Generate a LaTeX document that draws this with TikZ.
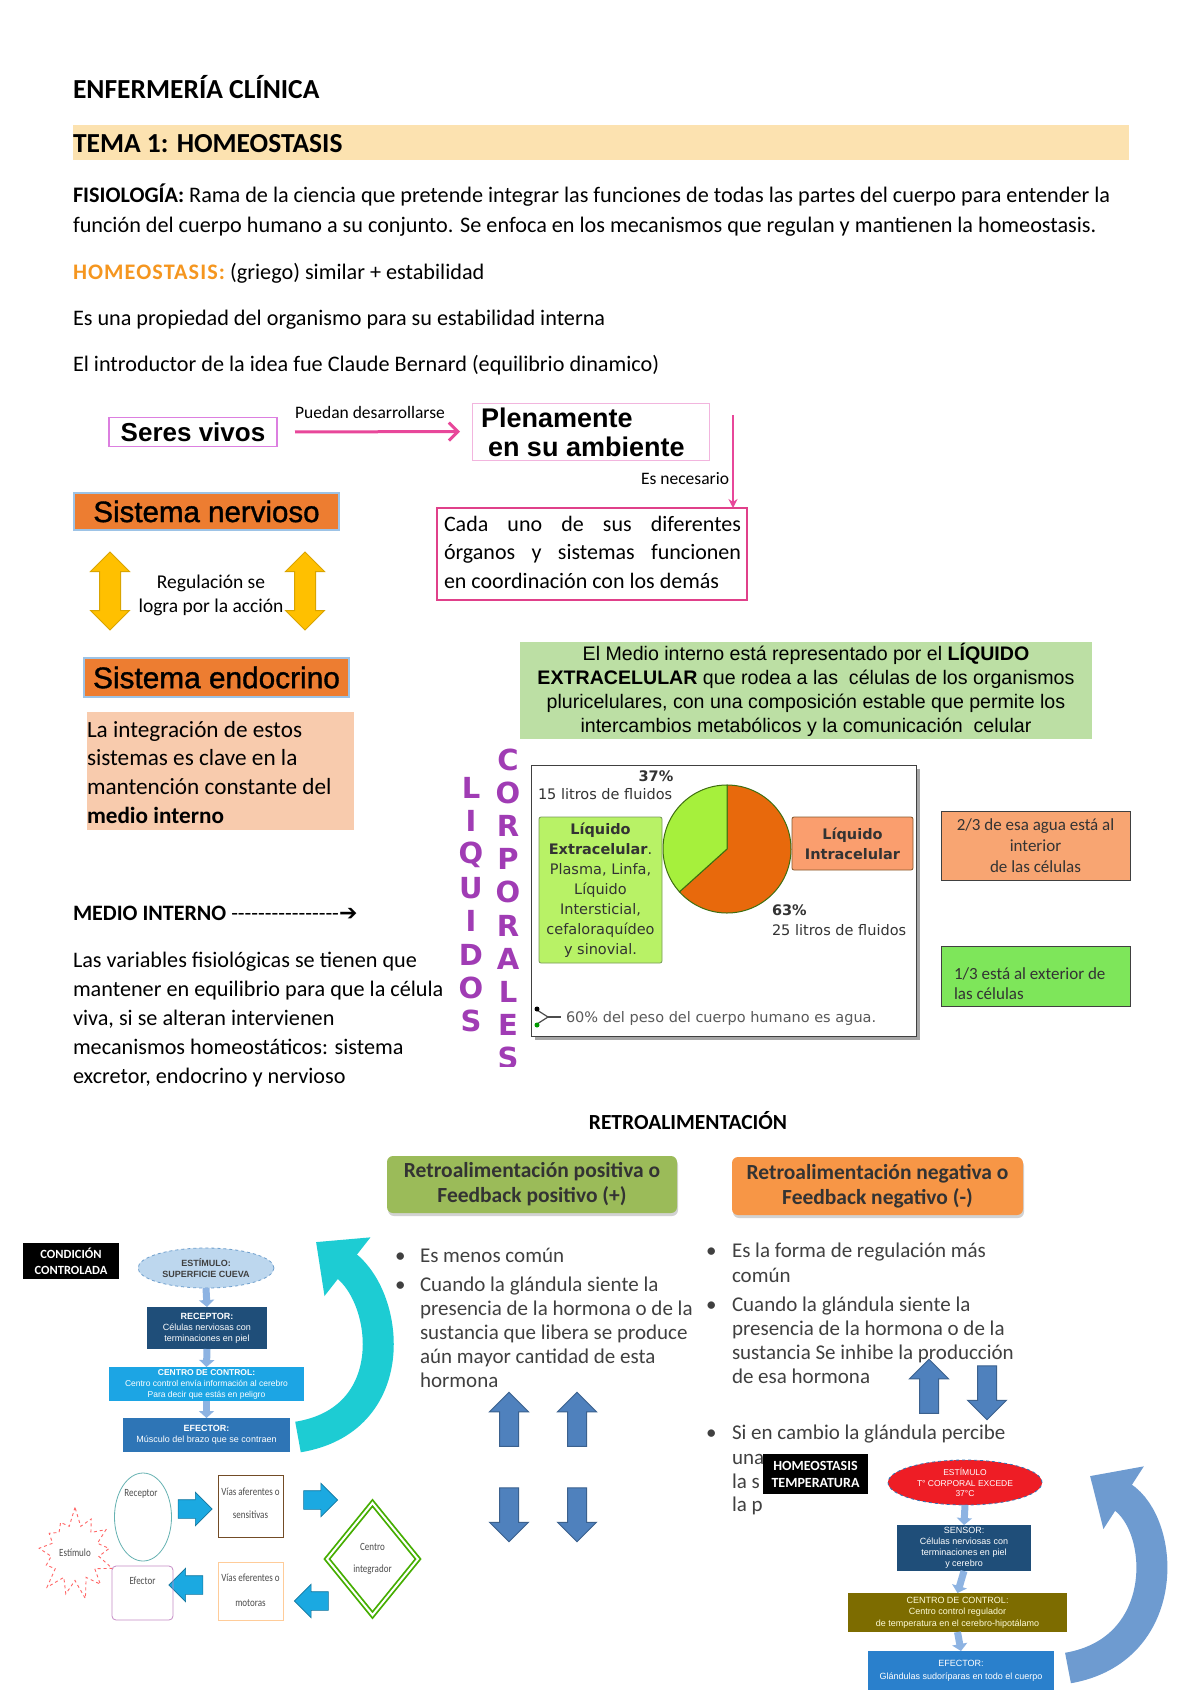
\documentclass[tikz,border=0pt]{standalone}
\usepackage{fontspec}
\usepackage{graphicx}
\setmainfont{Carlito}
\newfontfamily\arial{Liberation Sans}
\newfontfamily\arialheavy[FakeBold=1.2]{Liberation Sans}
\newfontfamily\verd{DejaVu Sans}
\usetikzlibrary{arrows.meta,shapes.arrows,shapes.geometric,shapes.symbols,shadows,calc}
\newcommand{\fsz}[2]{\fontsize{#1}{#2}\selectfont}
\newcommand{\narrow}[1]{\scalebox{0.82}[1]{#1}}
\definecolor{band}{HTML}{FCE2B0}
\definecolor{homeor}{HTML}{F5961F}
\definecolor{pinkA}{HTML}{DC7FE0}
\definecolor{pinkB}{HTML}{F2B5DE}
\definecolor{pinkC}{HTML}{E0408A}
\definecolor{pinkarr}{HTML}{E8479A}
\definecolor{orangeA}{HTML}{ED7D31}
\definecolor{lblue}{HTML}{9DC3E6}
\definecolor{yel}{HTML}{FFC000}
\definecolor{yelB}{HTML}{D9A400}
\definecolor{peach}{HTML}{F8CBAD}
\definecolor{greenA}{HTML}{BCDFA4}
\definecolor{purp}{HTML}{A03CB4}
\definecolor{piegr}{HTML}{A6F03C}
\definecolor{pieor}{HTML}{E8690C}
\definecolor{pieline}{HTML}{3E6E10}
\definecolor{lgbox}{HTML}{B8F266}
\definecolor{orbox}{HTML}{FA9E6E}
\definecolor{salm}{HTML}{F8A572}
\definecolor{brgreen}{HTML}{7EE65A}
\definecolor{hgreen}{HTML}{9BBB59}
\definecolor{horange}{HTML}{F79646}
\definecolor{bultxt}{HTML}{404040}
\definecolor{barrow}{HTML}{4F81BD}
\definecolor{ellb}{HTML}{BDD7EE}
\definecolor{navy}{HTML}{1F4E79}
\definecolor{skyb}{HTML}{1CA5E4}
\definecolor{midb}{HTML}{2E75B6}
\definecolor{connb}{HTML}{8DB3E2}
\definecolor{cyanA}{HTML}{1DCCD3}
\definecolor{steel}{HTML}{6E9BD0}
\definecolor{redA}{HTML}{EE1D25}
\definecolor{olive}{HTML}{7D6C00}
\definecolor{effb}{HTML}{2A80CC}
\definecolor{flowar}{HTML}{1BA9E1}
\begin{document}
\begin{tikzpicture}[x=1pt,y=-1pt,
  every node/.style={inner sep=0pt, outer sep=0pt},
  txt/.style={anchor=base west},
  body/.style={txt, font=\fsz{22.2}{29}},
  bul/.style={txt, font=\fsz{21}{24}, text=bultxt},
  chartt/.style={font=\verd\fsz{14.5}{20}, text=black!80},
  yarrow/.style={double arrow, shape border rotate=90, fill=yel, draw=yelB, line width=1pt, minimum height=78pt, inner sep=10pt, double arrow head extend=9pt},
  barr/.style={single arrow, fill=barrow, draw=barrow!75!black, line width=1pt, minimum height=54pt, inner sep=9pt, single arrow head extend=10pt},
  farr/.style={single arrow, fill=flowar, draw=flowar!70!black, line width=0.6pt, minimum height=34pt, inner sep=9pt, single arrow head extend=7.5pt},
  conn/.style={line width=7pt, draw=connb, -{Triangle[length=7pt,width=15pt]}},
  flowbox/.style={text=white, font=\arial\fsz{9}{11}, align=center},
  hdr/.style={rounded corners=6pt, font=\bfseries\fsz{21.5}{25}, text=black!80, align=center, drop shadow={shadow xshift=1pt, shadow yshift=-3pt, fill=black!35}},
  letter/.style={font=\verd\bfseries\fsz{29}{33}, text=purp},
  reflex/.style={font=\fsz{11}{13}, text=black!70}
]
\useasboundingbox (0,0) rectangle (1200,1698);
\fill[white] (0,0) rectangle (1200,1698);

% ---------- header text
\node[txt, font=\bfseries\fsz{27.5}{30}] (title) at (73,98) {ENFERMERÍA CLÍNICA};
\node[fill=band, minimum width=1056pt, minimum height=35pt, anchor=north west] (band) at (73,125) {};
\node[txt, font=\bfseries\fsz{27.5}{30}] (tema) at (73,152) {TEMA 1: HOMEOSTASIS};
\node[body] (f1) at (73,202) {\textbf{FISIOLOGÍA:} Rama de la ciencia que pretende integrar las funciones de todas las partes del cuerpo para entender la};
\node[body] (f2) at (73,232) {función del cuerpo humano a su conjunto. Se enfoca en los mecanismos que regulan y mantienen la homeostasis.};
\node[body] (h1) at (73,279) {{\color{homeor}\bfseries\addfontfeatures{LetterSpace=5}HOMEOSTASIS:} (griego) similar + estabilidad};
\node[body] (h2) at (73,325) {Es una propiedad del organismo para su estabilidad interna};
\node[body] (h3) at (73,371) {El introductor de la idea fue Claude Bernard (equilibrio dinamico)};

% ---------- top concept map
\node[draw=pinkA, line width=1.5pt, minimum width=168pt, minimum height=29pt, font=\arial\bfseries\fsz{26}{28}] (seres) at (193,432) {Seres vivos};
\node[draw=pinkB, line width=1pt, minimum width=237pt, minimum height=57pt] (plena) at (590.5,431.5) {};
\node[txt, font=\arial\bfseries\fsz{27}{28}] (plena1) at (481,427) {Plenamente};
\node[txt, font=\arial\bfseries\fsz{27}{28}] (plena2) at (488,456) {en su ambiente};
\draw[pinkarr, line width=3pt, -{Straight Barb[length=9pt,width=18pt]}, shorten <=18pt, shorten >=12pt] (seres.east) -- (plena.west);
\node[font=\fsz{17.5}{19}] (lab1) at (370,412) {Puedan desarrollarse};
\node[draw=pinkC, line width=1.5pt, minimum width=310pt, minimum height=92pt] (cada) at (592,554) {};
\coordinate (vs) at (733,415);
\draw[pinkarr, line width=2pt, -{Stealth[length=9pt,width=9pt]}] (vs) -- (vs |- cada.north);
\node[anchor=east, font=\fsz{17.5}{19}] (lab2) at (729,479) {Es necesario};
\node[txt, font=\fsz{22}{27}] (c1) at (444,531) {\hbox to 297pt{Cada\hfill uno\hfill de\hfill sus\hfill diferentes}};
\node[txt, font=\fsz{22}{27}] (c2) at (444,559) {\hbox to 297pt{órganos\hfill y\hfill sistemas\hfill funcionen}};
\node[txt, font=\fsz{22}{27}] (c3) at (444,588) {en coordinación con los demás};

\node[fill=orangeA, draw=lblue, line width=1.5pt, minimum width=265pt, minimum height=37pt, font=\arialheavy\fsz{29.5}{30}] (snerv) at (206.5,511.5) {Sistema nervioso};
\node[yarrow] (ya1) at (110,591) {};
\node[yarrow] (ya2) at (305,591) {};
\node[font=\fsz{19.5}{24}, align=center] (reg) at (211,595) {Regulación se\\logra por la acción};
\node[fill=orangeA, draw=lblue, line width=1.5pt, minimum width=265pt, minimum height=39pt, font=\arialheavy\fsz{29.8}{30}] (sendo) at (216.5,677.5) {Sistema endocrino};
\node[fill=peach, minimum width=267pt, minimum height=118pt, anchor=north west] (peachbox) at (87,712) {};
\node[txt, font=\fsz{23.2}{27}] (p1) at (87,737) {La integración de estos};
\node[txt, font=\fsz{23.2}{27}] (p2) at (87,765) {sistemas es clave en la};
\node[txt, font=\fsz{23.2}{27}] (p3) at (87,794) {mantención constante del};
\node[txt, font=\bfseries\fsz{23.2}{27}] (p4) at (87,823) {medio interno};

% ---------- medio interno green box
\node[fill=greenA, minimum width=572pt, minimum height=97pt, font=\arial\fsz{19.6}{24}, align=center] (gbox) at (806,690) {El Medio interno está representado por el \textbf{LÍQUIDO}\\\textbf{EXTRACELULAR} que rodea a las~ células de los organismos\\pluricelulares, con una composición estable que permite los\\intercambios metabólicos y la comunicación~ celular};

% ---------- vertical letters
\foreach \c [count=\i] in {L,I,Q,U,I,D,O,S}
  \node[letter] (liq\i) at (471,{788+33.3*(\i-1)}) {\c};
\begin{scope}
\clip (485,735) rectangle (535,1066);
\foreach \c [count=\i] in {C,O,R,P,O,R,A,L,E,S}
  \node[letter] (cor\i) at (508,{760+33.1*(\i-1)}) {\c};
\end{scope}

% ---------- chart
\fill[black!35] (535,769) rectangle (920,1040);
\node[draw=black!75, fill=white, line width=1pt, minimum width=385pt, minimum height=271pt, anchor=north west] (chart) at (531,765) {};
\coordinate (pc) at (727,849);
\filldraw[fill=pieor, draw=pieline, line width=1pt] (pc) -- ++(-222:64) arc[start angle=-222, end angle=-450, radius=64] -- cycle;
\filldraw[fill=piegr, draw=pieline, line width=1pt] (pc) -- ++(-90:64) arc[start angle=-90, end angle=-222, radius=64] -- cycle;
\node[chartt, font=\verd\bfseries\fsz{14.5}{20}] (p37) at (656,776) {37\%};
\node[chartt, anchor=base west] (l15) at (538,799) {15 litros de fluidos};
\node[fill=lgbox, draw=pieline!70, line width=0.8pt, rounded corners=2pt, minimum width=123pt, minimum height=146pt] (ext) at (600.5,890) {};
\node[chartt, align=center] (extt) at (600.5,890) {\textbf{Líquido}\\\textbf{Extracelular}.\\Plasma, Linfa,\\Líquido\\Intersticial,\\cefaloraquídeo\\y sinovial.};
\node[fill=orbox, draw=brown!70!black, line width=0.8pt, rounded corners=2pt, minimum width=121pt, minimum height=53pt, chartt, font=\verd\bfseries\fsz{14.5}{20}, align=center] (intr) at (852.5,843.5) {Líquido\\Intracelular};
\node[chartt, font=\verd\bfseries\fsz{14.5}{20}, anchor=base west] (p63) at (772,915) {63\%};
\node[chartt, anchor=base west] (l25) at (772,935) {25 litros de fluidos};
\coordinate (ic) at (548,1017);
\draw[black!70, line width=1.2pt] (537,1010) -- (ic) -- (537,1024);
\draw[black!70, line width=1.2pt] (ic) -- (561,1017);
\fill[black] (537,1009) circle[radius=2.5];
\fill[green!60!black] (537,1025) circle[radius=2.5];
\node[chartt, anchor=west, text=black!65] (agua) at (566,1018) {60\% del peso del cuerpo humano es agua.};

\node[fill=salm, draw=black!75, line width=1pt, minimum width=189pt, minimum height=69pt, font=\fsz{17}{21}, text=black!80, align=center] (b23) at (1035.5,845.5) {2/3 de esa agua está al\\interior\\de las células};
\node[fill=brgreen, draw=black!75, line width=1pt, minimum width=189pt, minimum height=60pt] (b13) at (1035.5,976) {};
\node[txt, font=\fsz{17}{21}, text=black!80] (b13a) at (954,979) {1/3 está al exterior de};
\node[txt, font=\fsz{17}{21}, text=black!80] (b13b) at (954,999) {las células};

% ---------- medio interno text
\node[txt, font=\fsz{22}{24}] (mi) at (73,920) {\textbf{MEDIO INTERNO} -{}-{}-{}-{}-{}-{}-{}-{}-{}-{}-{}-{}-{}-{}-{}-{}{\verd\bfseries ➔}};
\node[body] (m1) at (73,967) {Las variables fisiológicas se tienen que};
\node[body] (m2) at (73,996) {mantener en equilibrio para que la célula};
\node[body] (m3) at (73,1025) {viva, si se alteran intervienen};
\node[body] (m4) at (73,1054) {mecanismos homeostáticos: sistema};
\node[body] (m5) at (73,1083) {excretor, endocrino y nervioso};

% ---------- retroalimentacion
\node[font=\bfseries\fsz{21.5}{23}, anchor=base] (retro) at (688,1129) {RETROALIMENTACIÓN};
\node[hdr, fill=hgreen, minimum width=290pt, minimum height=57pt] (hpos) at (532,1184.5) {Retroalimentación positiva o\\Feedback positivo (+)};
\node[hdr, fill=horange, minimum width=291pt, minimum height=58pt] (hneg) at (877.5,1186) {Retroalimentación negativa o\\Feedback negativo (-)};

\node[bul] (pbd1) at (395,1262) {•};
\node[bul] (pb1) at (420,1262) {Es menos común};
\node[bul] (pbd2) at (395,1291) {•};
\node[bul] (pb2) at (420,1291) {Cuando la glándula siente la};
\node[bul] (pb3) at (420,1315) {presencia de la hormona o de la};
\node[bul] (pb4) at (420,1339) {sustancia que libera se produce};
\node[bul] (pb5) at (420,1363) {aún mayor cantidad de esta};
\node[bul] (pb6) at (420,1387) {hormona};

\node[bul] (nbd1) at (706,1257) {•};
\node[bul] (nb1) at (732,1257) {Es la forma de regulación más};
\node[bul] (nb2) at (732,1282) {común};
\node[bul] (nbd2) at (706,1311) {•};
\node[bul] (nb3) at (732,1311) {Cuando la glándula siente la};
\node[bul] (nb4) at (732,1335) {presencia de la hormona o de la};
\node[bul] (nb5) at (732,1359) {sustancia Se inhibe la producción};
\node[bul] (nb6) at (732,1383) {de esa hormona};
\node[bul] (nbd3) at (706,1439) {•};
\node[bul] (nb7) at (732,1439) {Si en cambio la glándula percibe};
\node[bul] (nb8) at (732,1464) {una};
\node[bul] (nb9) at (732,1488) {la s};
\node[bul] (nb10) at (732,1511) {la p};

\node[barr, shape border rotate=90] (up1) at (509,1424) {};
\node[barr, shape border rotate=90] (up2) at (577,1424) {};
\node[barr, shape border rotate=270] (dn1) at (509,1510) {};
\node[barr, shape border rotate=270] (dn2) at (577,1510) {};
\node[barr, shape border rotate=90] (up3) at (929,1391) {};
\node[barr, shape border rotate=270] (dn3) at (987,1388) {};

% ---------- left flowchart
\node[fill=black, minimum width=96pt, minimum height=36pt, text=white, font=\bfseries\fsz{12.5}{16}, align=center] (cond) at (71,1261) {CONDICIÓN\\CONTROLADA};
\node[ellipse, fill=ellb, draw=midb!70, dashed, line width=0.8pt, minimum width=136pt, minimum height=40pt, font=\arial\bfseries\fsz{9}{11}, text=black!75, align=center] (est) at (206,1268) {ESTÍMULO:\\SUPERFICIE CUEVA};
\node[fill=navy, minimum width=120pt, minimum height=42pt, flowbox] (rec) at (207,1328) {\textbf{RECEPTOR:}\\Células nerviosas con\\terminaciones en piel};
\node[fill=skyb, minimum width=195pt, minimum height=34pt, flowbox, font=\arial\fsz{8.5}{11}] (ctrl) at (206.5,1384) {\textbf{CENTRO DE CONTROL:}\\Centro control envía información al cerebro\\Para decir que estás en peligro};
\node[fill=midb, minimum width=167pt, minimum height=34pt, flowbox] (efec) at (206.5,1435) {\textbf{EFECTOR:}\\Músculo del brazo que se contraen};
\draw[conn] (est.south) -- (rec.north);
\draw[conn] (rec.south) -- (ctrl.north);
\draw[conn] (ctrl.south) -- (efec.north);
\draw[cyanA, line width=31pt, -{Triangle[length=40pt,width=72pt]}] (298,1437) .. controls (402,1420) and (390,1300) .. (316,1242);

% ---------- bottom reflex arc
\node[starburst, random starburst=7, starburst points=13, starburst point height=20pt, draw=red!60, dashed, line width=0.9pt, minimum width=88pt, minimum height=95pt, reflex] (estim) at (75,1553) {\narrow{Estímulo}};
\node[ellipse, draw=teal!60, line width=0.8pt, minimum width=57pt, minimum height=88pt] (recp) at (143,1517) {};
\node[reflex] (recpt) at (141,1494) {\narrow{Receptor}};
\node[farr] (fa1) at (190.5,1509) {};
\node[draw=brown!60!black, line width=0.8pt, minimum width=65pt, minimum height=62pt] (vaf) at (250.5,1506) {};
\node[reflex, align=center, font=\fsz{11}{23}] (vaft) at (250.5,1503) {\narrow{Vías aferentes o}\\\narrow{sensitivas}};
\node[farr] (fa2) at (316,1500) {};
\node[diamond, draw=green!45!olive, double=white, double distance=2pt, line width=1.8pt, minimum width=91pt, minimum height=112pt, aspect=0.8, reflex, font=\fsz{11}{22}, align=center] (cint) at (372.5,1559) {\narrow{Centro}\\\narrow{integrador}};
\node[farr, shape border rotate=180] (fa3) at (316,1601) {};
\node[draw=orange!40, line width=0.8pt, minimum width=65pt, minimum height=58pt] (vef) at (250.5,1591) {};
\node[reflex, align=center, font=\fsz{11}{25}] (veft) at (250.5,1590) {\narrow{Vías eferentes o}\\\narrow{motoras}};
\node[farr, shape border rotate=180] (fa4) at (190.5,1585) {};
\node[draw=violet!45, line width=0.8pt, rounded corners=4pt, minimum width=61pt, minimum height=54pt] (efb) at (142.5,1593) {};
\node[reflex] (efbt) at (142.5,1581) {\narrow{Efector}};

% ---------- right flowchart
\node[fill=black, minimum width=105pt, minimum height=40pt, text=white, font=\bfseries\fsz{14}{17}, align=center] (hom) at (815.5,1474) {HOMEOSTASIS\\TEMPERATURA};
\node[ellipse, fill=redA, draw=midb, dashed, line width=0.8pt, minimum width=154pt, minimum height=45pt, flowbox, font=\arial\fsz{8.5}{10.5}] (est2) at (965,1482.5) {ESTÍMULO\\T° CORPORAL EXCEDE\\37°C};
\node[fill=navy, minimum width=134pt, minimum height=46pt, flowbox, font=\arial\fsz{9}{11}] (sens) at (964,1548) {SENSOR:\\Células nerviosas con\\terminaciones en piel\\y cerebro};
\node[fill=olive, minimum width=219pt, minimum height=39pt, flowbox, text=yellow!15, font=\arial\fsz{9}{11.5}] (ctrl2) at (957.5,1612.5) {CENTRO DE CONTROL:\\Centro control regulador\\de temperatura en el cerebro-hipotálamo};
\node[fill=effb, minimum width=186pt, minimum height=39pt, flowbox, font=\arial\fsz{9}{13}] (efec2) at (961,1670.5) {EFECTOR:\\Glándulas sudoríparas en todo el cuerpo};
\draw[conn] (est2.south) -- (sens.north);
\draw[conn] (sens.south) -- (ctrl2.north);
\draw[conn] (ctrl2.south) -- (efec2.north);
\draw[steel, line width=31pt, -{Triangle[length=40pt,width=72pt]}] (1068,1668) .. controls (1172,1650) and (1166,1525) .. (1090,1476);
\end{tikzpicture}
\end{document}
